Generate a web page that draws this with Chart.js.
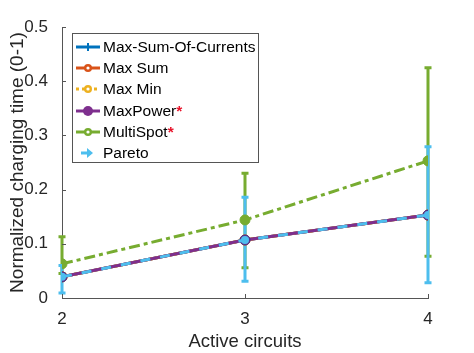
<!DOCTYPE html>
<html>
<head>
<meta charset="utf-8">
<script src="https://cdn.jsdelivr.net/npm/chart.js@4"></script>
<style>
  body { margin: 0; background: #fff; }
  #wrap { position: relative; width: 474px; height: 353px; }
  #legend {
    position: absolute; left: 72px; top: 33px; width: 187px; height: 130px;
    border: 1px solid #555; background: #fff; box-sizing: border-box;
    font-family: "Liberation Sans", Arial, sans-serif; font-size: 15.5px; color: #000;
    padding-top: 2px;
  }
  .row { display: flex; align-items: center; height: 21.3px; }
  .row canvas { margin-left: 2px; margin-right: 2px; }
  .star { color: #e8132a; font-weight: bold; }
</style>
</head>
<body>
<div id="wrap">
  <canvas id="chart" width="474" height="353"></canvas>
  <div id="legend"></div>
</div>
<script>
// DATA
const circuits = [2, 3, 4];
const seriesNames = ["Max-Sum-Of-Currents", "Max Sum", "Max Min", "MaxPower", "MultiSpot", "Pareto"];
const starred = [false, false, false, true, true, false];
const maxSumCurrents = [0.039, 0.107, 0.153];
const maxSum = [0.039, 0.107, 0.153];
const maxMin = [0.039, 0.107, 0.153];
const maxPower = [0.039, 0.107, 0.153];
const multiSpot = [0.063, 0.144, 0.253];
const pareto = [0.039, 0.107, 0.153];
const multiSpotLow = [0.045, 0.056, 0.077];
const multiSpotHigh = [0.113, 0.23, 0.425];
const paretoLow = [0.009, 0.031, 0.028];
const paretoHigh = [0.06, 0.186, 0.279];
const yTicks = [0, 0.1, 0.2, 0.3, 0.4, 0.5];

const colors = ["#0072BD", "#D95319", "#EDB120", "#7E2F8E", "#77AC30", "#4DBEEE"];
const FONT = "'Liberation Sans', Arial, sans-serif";
const AXIS = "#555";

const toXY = vals => vals.map((v, i) => ({ x: circuits[i], y: v }));

// error bars drawn with the chart scales
const errorBars = {
  id: "errorBars",
  beforeDatasetsDraw(chart) {
    const { ctx, scales: { x, y } } = chart;
    const sets = [
      { low: multiSpotLow, high: multiSpotHigh, color: colors[4] },
      { low: paretoLow, high: paretoHigh, color: colors[5] }
    ];
    ctx.save();
    ctx.lineWidth = 3;
    sets.forEach(s => {
      ctx.strokeStyle = s.color;
      circuits.forEach((c, i) => {
        const px = x.getPixelForValue(c);
        const y1 = y.getPixelForValue(s.low[i]);
        const y2 = y.getPixelForValue(s.high[i]);
        ctx.beginPath();
        ctx.moveTo(px, y1); ctx.lineTo(px, y2);
        ctx.moveTo(px - 3.5, y1); ctx.lineTo(px + 3.5, y1);
        ctx.moveTo(px - 3.5, y2); ctx.lineTo(px + 3.5, y2);
        ctx.stroke();
      });
    });
    ctx.restore();
  },
  afterDraw(chart) {
    // inward tick marks like the original
    const { ctx, scales: { x, y } } = chart;
    ctx.save();
    ctx.strokeStyle = AXIS;
    ctx.lineWidth = 1;
    ctx.beginPath();
    yTicks.forEach(t => {
      const py = Math.round(y.getPixelForValue(t)) + 0.5;
      ctx.moveTo(x.left, py); ctx.lineTo(x.left + 4, py);
    });
    circuits.forEach(c => {
      const px = Math.round(x.getPixelForValue(c)) + 0.5;
      ctx.moveTo(px, y.bottom); ctx.lineTo(px, y.bottom - 4);
    });
    ctx.stroke();
    ctx.restore();
  }
};

// later series sit on top, like the original
const lineSet = (label, vals, i, extra) => Object.assign({
  label,
  data: toXY(vals),
  order: 5 - i,
  borderColor: colors[i],
  backgroundColor: colors[i],
  borderWidth: 3,
  pointRadius: 5,
  pointBorderWidth: 1,
  pointBorderColor: colors[i],
  tension: 0
}, extra);

new Chart(document.getElementById("chart"), {
  type: "line",
  data: {
    datasets: [
      lineSet(seriesNames[0], maxSumCurrents, 0, { pointStyle: "crossRot" }),
      lineSet(seriesNames[1], maxSum, 1, {}),
      lineSet(seriesNames[2], maxMin, 2, { borderDash: [3, 3] }),
      lineSet(seriesNames[3], maxPower, 3, { pointBorderColor: "#3b2c8f" }),
      lineSet(seriesNames[4], multiSpot, 4, { borderDash: [11, 4, 4, 4] }),
      lineSet(seriesNames[5], pareto, 5, { borderDash: [10, 10], pointRadius: 4, pointBorderWidth: 0 })
    ]
  },
  options: {
    responsive: false,
    animation: false,
    layout: { padding: { top: 27, right: 46, left: 0, bottom: 0 } },
    plugins: { legend: { display: false }, tooltip: { enabled: false } },
    scales: {
      x: {
        type: "linear", min: 2, max: 4,
        afterBuildTicks: s => { s.ticks = circuits.map(v => ({ value: v })); },
        grid: { display: false },
        border: { color: AXIS, width: 1 },
        ticks: { color: "#262626", font: { family: FONT, size: 17 }, padding: 3 },
        title: { display: true, text: "Active circuits", color: "#262626", font: { family: FONT, size: 18.5 }, padding: { top: 0, bottom: 0 } },
        afterFit: s => { s.height = 55; }
      },
      y: {
        min: 0, max: 0.5,
        afterBuildTicks: s => { s.ticks = yTicks.map(v => ({ value: v })); },
        grid: { display: false },
        border: { color: AXIS, width: 1 },
        ticks: { color: "#262626", font: { family: FONT, size: 17 }, padding: 6 },
        title: { display: true, text: "Normalized charging time (0-1)", color: "#262626", font: { family: FONT, size: 19 }, padding: { top: 6, bottom: 0 } },
        afterFit: s => { s.width = 62; }
      }
    }
  },
  plugins: [errorBars]
});

// LEGEND (html so the red asterisks can be coloured)
const legend = document.getElementById("legend");
const styles = [
  { dash: [], marker: "plus" },
  { dash: [], marker: "ring" },
  { dash: [3, 3], marker: "ring" },
  { dash: [], marker: "dot" },
  { dash: [], marker: "ring" },
  { dash: [], marker: "arrow" }
];
seriesNames.forEach((name, i) => {
  const row = document.createElement("div");
  row.className = "row";
  const c = document.createElement("canvas");
  c.width = 26; c.height = 14;
  const g = c.getContext("2d");
  g.strokeStyle = colors[i]; g.fillStyle = colors[i]; g.lineWidth = 3;
  g.setLineDash(styles[i].dash);
  if (styles[i].marker !== "arrow") {
    g.beginPath(); g.moveTo(1, 7); g.lineTo(25, 7); g.stroke();
  }
  g.setLineDash([]);
  const m = styles[i].marker;
  if (m === "plus") {
    g.lineWidth = 2; g.beginPath(); g.moveTo(13, 3); g.lineTo(13, 11); g.stroke();
  } else if (m === "ring") {
    g.beginPath(); g.arc(13, 7, 4, 0, Math.PI * 2); g.fill();
    g.fillStyle = "#fff"; g.beginPath(); g.arc(13, 7, 1.6, 0, Math.PI * 2); g.fill();
  } else if (m === "dot") {
    g.beginPath(); g.arc(13, 7, 5, 0, Math.PI * 2); g.fill();
  } else {
    g.beginPath(); g.moveTo(6, 7); g.lineTo(14, 7); g.stroke();
    g.beginPath(); g.moveTo(12, 2); g.lineTo(18, 7); g.lineTo(12, 12); g.closePath(); g.fill();
  }
  row.appendChild(c);
  const t = document.createElement("span");
  t.textContent = name;
  row.appendChild(t);
  if (starred[i]) {
    const s = document.createElement("span");
    s.className = "star"; s.textContent = "*";
    row.appendChild(s);
  }
  legend.appendChild(row);
});
</script>
</body>
</html>
